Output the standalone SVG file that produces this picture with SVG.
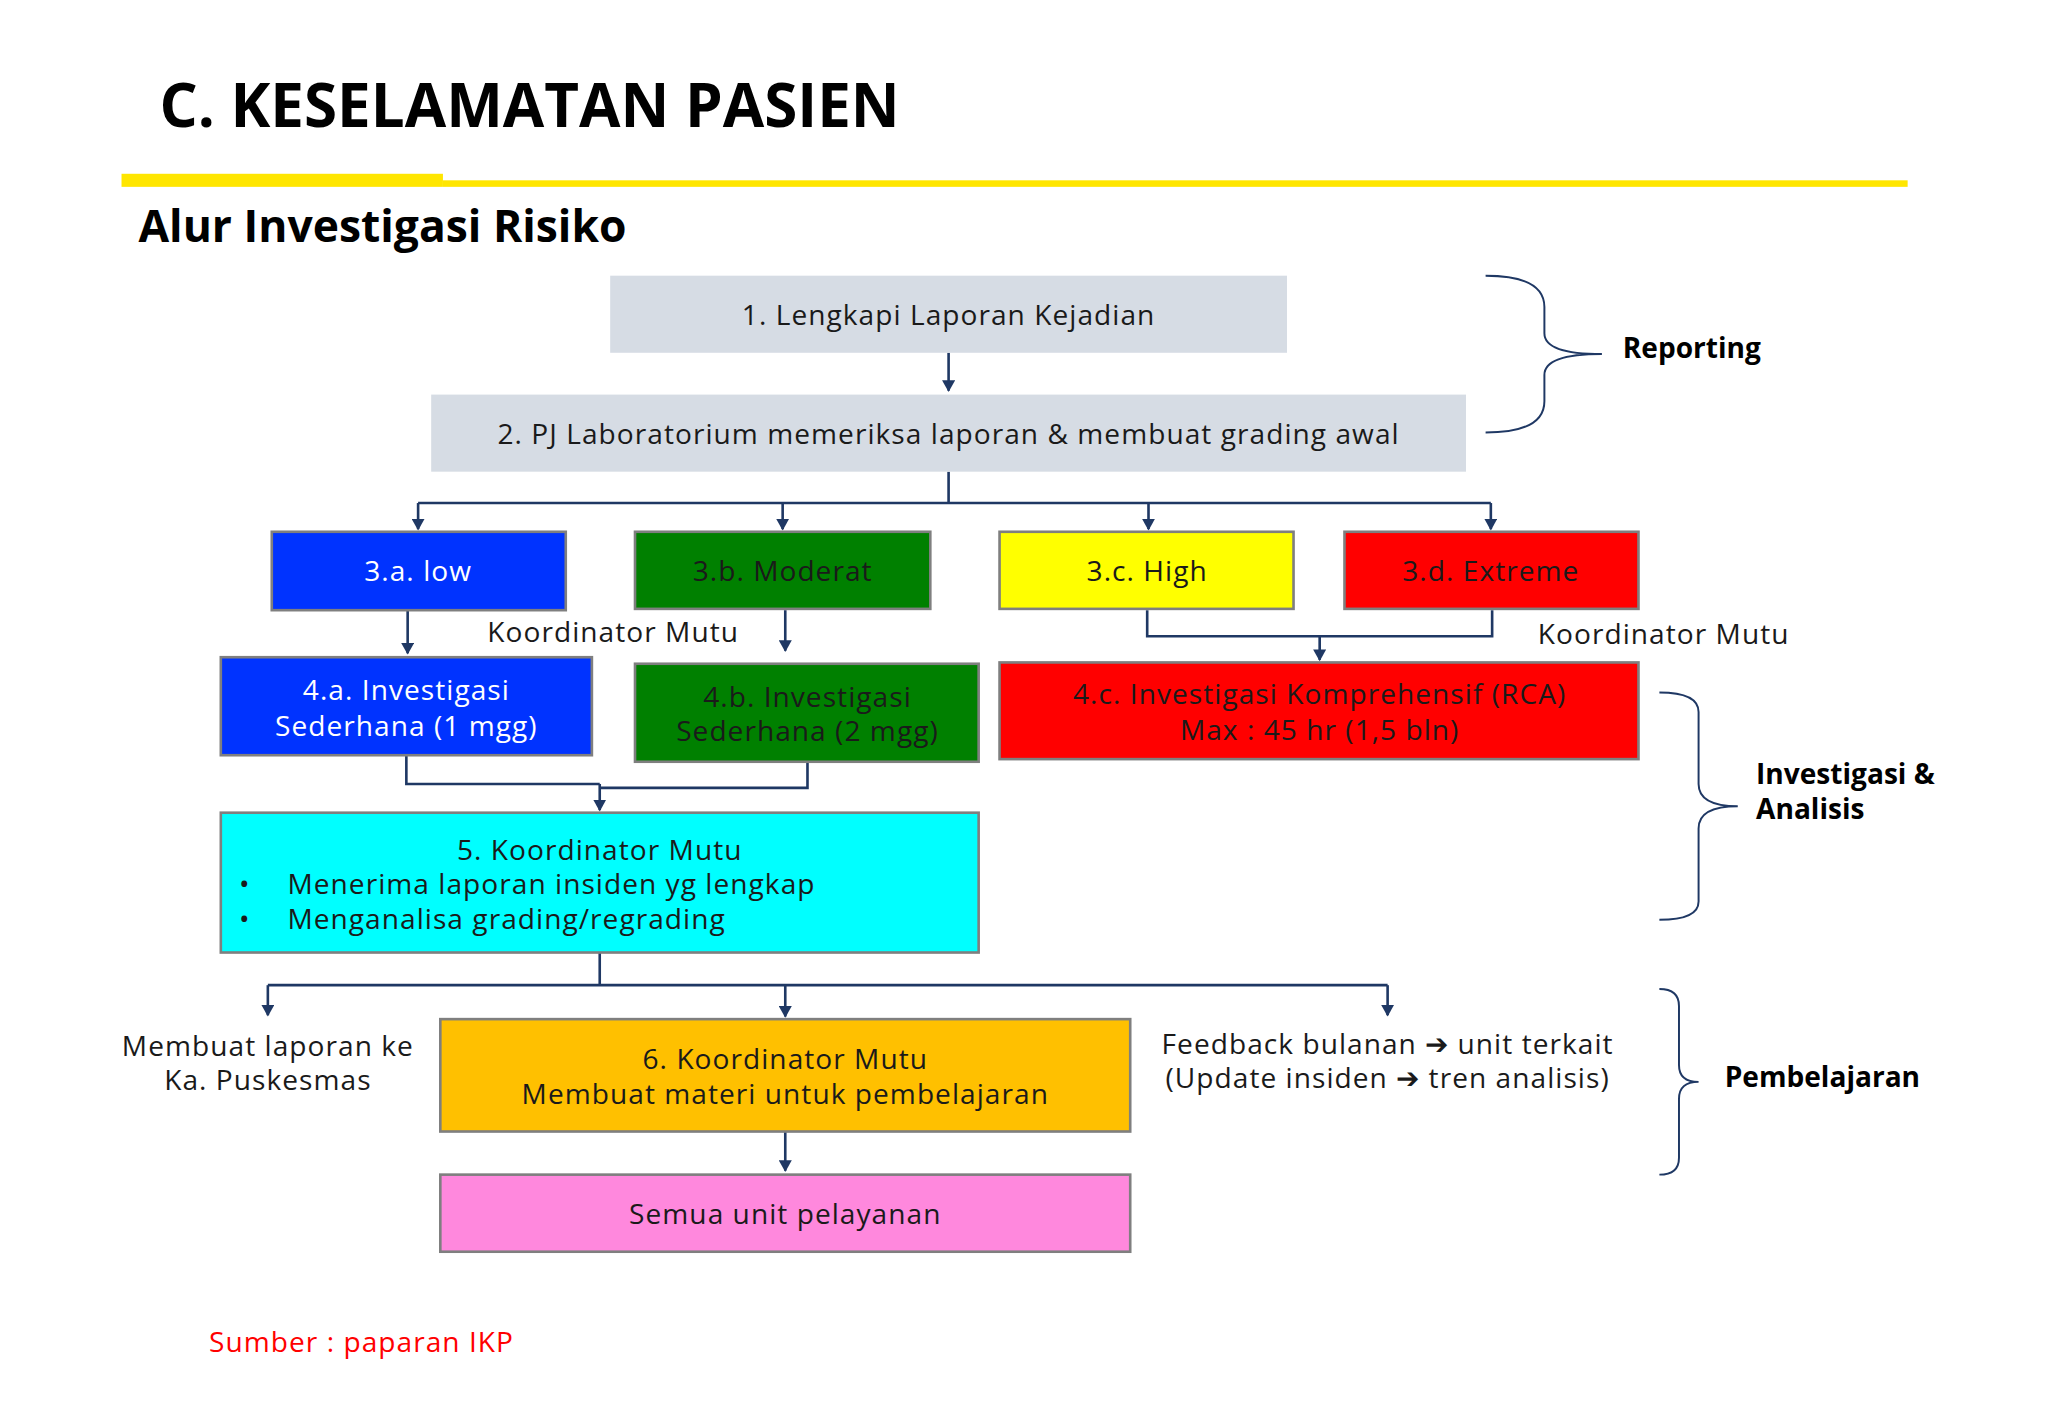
<svg xmlns="http://www.w3.org/2000/svg" width="2048" height="1418" viewBox="0 0 2048 1418">
<style>
text{font-family:"Open Sans","Liberation Sans",sans-serif;font-size:21.5px;letter-spacing:0.8px;fill:#1a1a1a}
.c{text-anchor:middle}
.w{fill:#fff}
.b{font-weight:bold;letter-spacing:0}
.box{stroke:#7f7f7f;stroke-width:2}
.ln{fill:none;stroke:#1f3864;stroke-width:2}
.br{fill:none;stroke:#1f3864;stroke-width:1.5}
</style>
<defs><marker id="a" markerWidth="10" markerHeight="10" refX="8" refY="5" orient="auto" markerUnits="userSpaceOnUse"><path d="M0,0 L9,5 L0,10 Z" fill="#1f3864"/></marker></defs>
<rect width="2048" height="1418" fill="#fff"/>
<g transform="scale(1.3066)">
<text x="122" y="97" class="b" style="font-size:46px;fill:#000">C. KESELAMATAN PASIEN</text>
<rect x="93" y="133" width="246" height="10" fill="#ffe600"/>
<rect x="339" y="138" width="1121" height="5" fill="#ffe600"/>
<text x="106" y="185" class="b" style="font-size:34px;fill:#000">Alur Investigasi Risiko</text>

<g id="connectors">
<path class="ln" d="M726,270 V299" marker-end="url(#a)"/>
<path class="ln" d="M726,361 V385 M320,385 H1141"/>
<path class="ln" d="M320,385 V405" marker-end="url(#a)"/>
<path class="ln" d="M599,385 V405" marker-end="url(#a)"/>
<path class="ln" d="M879,385 V405" marker-end="url(#a)"/>
<path class="ln" d="M1141,385 V405" marker-end="url(#a)"/>
<path class="ln" d="M312,467 V500" marker-end="url(#a)"/>
<path class="ln" d="M601,467 V498" marker-end="url(#a)"/>
<path class="ln" d="M878,467 V487 H1142 V467"/>
<path class="ln" d="M1010,487 V505" marker-end="url(#a)"/>
<path class="ln" d="M311,578 V600 H459 M618,583 V603 H459"/>
<path class="ln" d="M459,600 V620" marker-end="url(#a)"/>
<path class="ln" d="M459,729 V754 M205,754 H1062"/>
<path class="ln" d="M205,754 V777" marker-end="url(#a)"/>
<path class="ln" d="M601,754 V778" marker-end="url(#a)"/>
<path class="ln" d="M1062,754 V777" marker-end="url(#a)"/>
<path class="ln" d="M601,866 V896" marker-end="url(#a)"/>
</g>

<g id="n1"><rect x="467" y="211" width="518" height="59" fill="#d6dce4"/><text x="726" y="249" class="c">1. Lengkapi Laporan Kejadian</text></g>
<g id="n2"><rect x="330" y="302" width="792" height="59" fill="#d6dce4"/><text x="726" y="340" class="c">2. PJ Laboratorium memeriksa laporan &amp; membuat grading awal</text></g>
<g id="n3a"><rect class="box" x="208" y="407" width="225" height="60" fill="#0033ff"/><text x="320" y="445" class="c w">3.a. low</text></g>
<g id="n3b"><rect class="box" x="486" y="407" width="226" height="59" fill="#008000"/><text x="599" y="445" class="c">3.b. Moderat</text></g>
<g id="n3c"><rect class="box" x="765" y="407" width="225" height="59" fill="#ffff00"/><text x="878" y="445" class="c">3.c. High</text></g>
<g id="n3d"><rect class="box" x="1029" y="407" width="225" height="59" fill="#ff0000"/><text x="1141" y="445" class="c">3.d. Extreme</text></g>
<text x="373" y="491">Koordinator Mutu</text>
<text x="1177" y="493">Koordinator Mutu</text>
<g id="n4a"><rect class="box" x="169" y="503" width="284" height="75" fill="#0033ff"/><text x="311" y="536" class="c w">4.a. Investigasi</text><text x="311" y="563" class="c w">Sederhana (1 mgg)</text></g>
<g id="n4b"><rect class="box" x="486" y="508" width="263" height="75" fill="#008000"/><text x="618" y="541" class="c">4.b. Investigasi</text><text x="618" y="567" class="c">Sederhana (2 mgg)</text></g>
<g id="n4c"><rect class="box" x="765" y="507" width="489" height="74" fill="#ff0000"/><text x="1010" y="539" class="c">4.c. Investigasi Komprehensif (RCA)</text><text x="1010" y="566" class="c">Max : 45 hr (1,5 bln)</text></g>
<g id="n5"><rect class="box" x="169" y="622" width="580" height="107" fill="#00ffff"/><text x="459" y="658" class="c">5. Koordinator  Mutu</text><text x="183" y="684">•</text><text x="220" y="684">Menerima laporan insiden yg lengkap</text><text x="183" y="711">•</text><text x="220" y="711">Menganalisa grading/regrading</text></g>
<g id="nlap"><text x="205" y="808" class="c">Membuat laporan ke</text><text x="205" y="834" class="c">Ka. Puskesmas</text></g>
<g id="n6"><rect class="box" x="337" y="780" width="528" height="86" fill="#ffc000"/><text x="601" y="818" class="c">6. Koordinator Mutu</text><text x="601" y="845" class="c">Membuat materi untuk pembelajaran</text></g>
<g id="nfb"><text x="1062" y="807" class="c">Feedback bulanan ➔ unit terkait</text><text x="1062" y="833" class="c">(Update insiden ➔ tren analisis)</text></g>
<g id="n7"><rect class="box" x="337" y="899" width="528" height="59" fill="#ff88dd"/><text x="601" y="937" class="c">Semua unit pelayanan</text></g>
<text x="160" y="1035" style="fill:#ff0000">Sumber : paparan IKP</text>

<path class="br" d="M1137,211 Q1182,211 1182,235 V255 Q1182,271 1226,271 Q1182,271 1182,287 V307 Q1182,331 1137,331"/>
<text x="1242" y="274" class="b" style="fill:#000">Reporting</text>
<path class="br" d="M1270,530 Q1300,530 1300,545 V600 Q1300,617 1330,617 Q1300,617 1300,634 V690 Q1300,704 1270,704"/>
<text x="1344" y="600" class="b" style="fill:#000">Investigasi &amp;</text>
<text x="1344" y="627" class="b" style="fill:#000">Analisis</text>
<path class="br" d="M1270,757 Q1285,757 1285,770 V815 Q1285,828 1300,828 Q1285,828 1285,841 V886 Q1285,899 1270,899"/>
<text x="1320" y="832" class="b" style="fill:#000">Pembelajaran</text>
</g>
</svg>
